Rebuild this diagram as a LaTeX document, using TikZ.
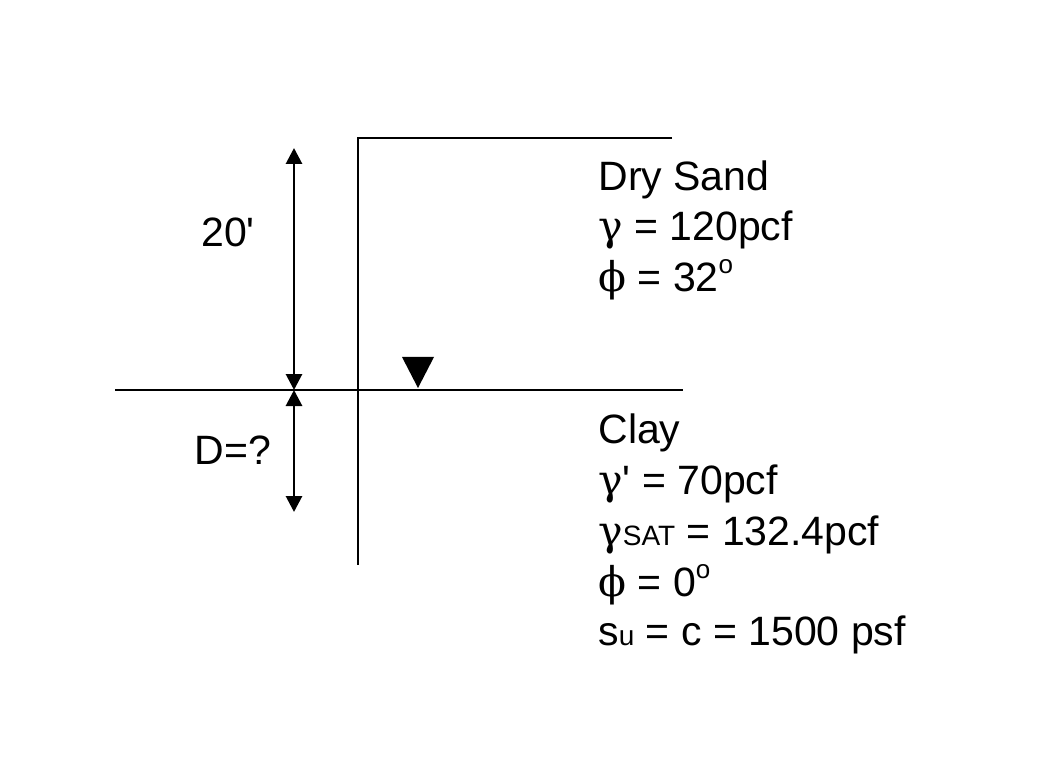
\documentclass[tikz,border=0pt]{standalone}
\usepackage{fontspec}
\setmainfont{Liberation Sans}
\newfontfamily\gk{DejaVu Serif}
\newcommand{\gam}{{\gk γ}}
\newcommand{\ph}{{\gk ϕ}}
\newcommand{\degr}{\raisebox{0.45em}{\fontsize{26}{28}\selectfont o}}
\usetikzlibrary{arrows.meta}
\begin{document}
\begin{tikzpicture}[x=1pt,y=-1pt,line width=2.9pt,
  lbl/.style={anchor=west,inner sep=0pt,font=\fontsize{41}{46}\selectfont},
  dim/.style={{Triangle[length=16pt,width=16pt]}-{Triangle[length=16pt,width=16pt]}}]
\useasboundingbox (0,0) rectangle (1041,783);
\coordinate (wt) at (358,138); \coordinate (wr) at (672,138); \coordinate (wb) at (358,565);
\draw (wr) -- (wt) -- (wb);
\coordinate (gl) at (115,390); \coordinate (gr) at (683,390);
\draw (gl) -- (gr);
\coordinate (a1) at (294,148); \coordinate (a2) at (294,390); \coordinate (a3) at (294,512);
\draw[dim] (a1) -- (a2);
\draw[dim] (a2) -- (a3);
\fill (402,357) -- (434,357) -- (418,388) -- cycle;
\node[lbl,anchor=center] (t20) at (228,232) {20\textquotesingle};
\node[lbl,anchor=center] (tD) at (233,450) {D=?};
\node[lbl] (n1) at (597,180) {Dry Sand};
\node[lbl] (n2) at (597,230) {\gam{} = 120pcf};
\node[lbl] (n3) at (597,280) {\ph{} = 32\degr};
\node[lbl] (n4) at (597,433) {Clay};
\node[lbl] (n5) at (597,484) {\gam\textquotesingle{} = 70pcf};
\node[lbl] (n6) at (597,535) {\gam{\fontsize{28}{30}\selectfont SAT} = 132.4pcf};
\node[lbl] (n7) at (597,585) {\ph{} = 0\degr};
\node[lbl] (n8) at (597,635) {s{\fontsize{28}{30}\selectfont u} = c = 1500 psf};
\end{tikzpicture}
\end{document}
